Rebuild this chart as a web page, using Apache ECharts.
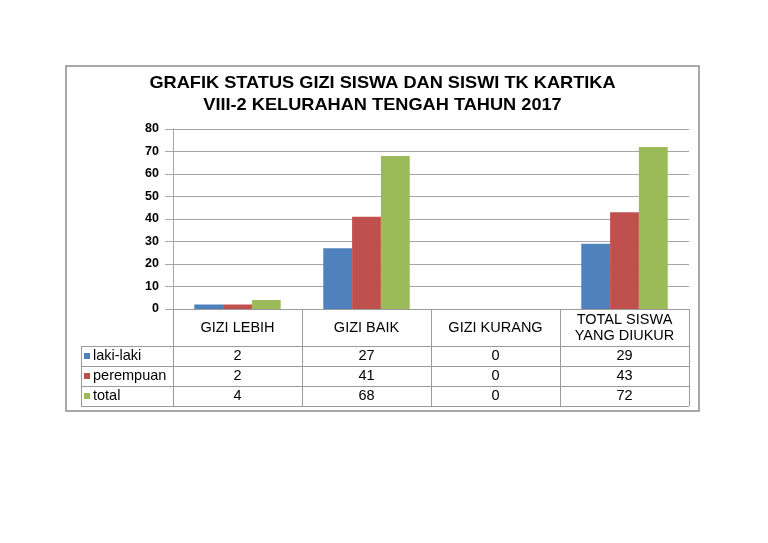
<!DOCTYPE html>
<html><head><meta charset="utf-8">
<script src="https://cdn.jsdelivr.net/npm/echarts@6/dist/echarts.min.js"></script>
<style>html,body{margin:0;padding:0;background:#fff}#c{width:768px;height:543px}</style>
</head><body><div id="c"></div>
<script>
const titleLines = ['GRAFIK STATUS GIZI SISWA DAN SISWI TK KARTIKA', 'VIII-2 KELURAHAN TENGAH TAHUN 2017'];
const categories = ['GIZI LEBIH', 'GIZI BAIK', 'GIZI KURANG', 'TOTAL SISWA\nYANG DIUKUR'];
const seriesNames = ['laki-laki', 'perempuan', 'total'];
const lakiLaki = [2, 27, 0, 29];
const perempuan = [2, 41, 0, 43];
const total = [4, 68, 0, 72];
const yMin = 0, yMax = 80, yInterval = 10;

const seriesData = [lakiLaki, perempuan, total];
const colors = ['#4F81BD', '#C0504D', '#9BBB59'];
const FONT = '"Liberation Sans", Arial, sans-serif';
const GRID_C = '#a6a6a6';
const TABLE_C = '#9a9a9a';
const HEADER_H = 37, ROW_H = 20;

const chart = echarts.init(document.getElementById('c'), null, {renderer: 'canvas'});

const baseOption = {
  backgroundColor: '#fff',
  animation: false,
  grid: {left: 173, right: 79, top: 129, bottom: 234, containLabel: false},
  xAxis: {
    type: 'category',
    data: categories,
    boundaryGap: true,
    axisLine: {show: true, lineStyle: {color: TABLE_C, width: 1}},
    axisTick: {show: true, length: HEADER_H + ROW_H * 3, lineStyle: {color: TABLE_C, width: 1}},
    axisLabel: {
      show: true, margin: 18.5, verticalAlign: 'middle', lineHeight: 16,
      color: '#000', fontFamily: FONT, fontSize: 14.5, interval: 0
    },
    splitLine: {show: false}
  },
  yAxis: {
    type: 'value', min: yMin, max: yMax, interval: yInterval,
    axisLine: {show: true, lineStyle: {color: GRID_C, width: 1}},
    axisTick: {show: true, length: 8, lineStyle: {color: GRID_C}},
    axisLabel: {margin: 14, color: '#000', fontFamily: FONT, fontSize: 12.5, fontWeight: 'bold'},
    splitLine: {show: true, lineStyle: {color: GRID_C, width: 1}}
  },
  series: seriesNames.map((n, i) => ({
    name: n, type: 'bar', data: seriesData[i],
    barGap: '0%', barCategoryGap: '33%',
    itemStyle: {color: colors[i]}
  }))
};
chart.setOption(baseOption);

function buildGraphic() {
  const y0 = chart.convertToPixel({yAxisIndex: 0}, 0);
  const xs = categories.map((c, i) => chart.convertToPixel({xAxisIndex: 0}, i));
  const step = xs.length > 1 ? xs[1] - xs[0] : 129;
  const axisRight = xs[xs.length - 1] + step / 2;
  const tableLeft = 81;
  const els = [];
  // outer chart border
  els.push({type: 'rect', shape: {x: 66, y: 66, width: 633, height: 345},
    style: {fill: null, stroke: '#8c8c8c', lineWidth: 1.5}, z: 0, silent: true});
  // title
  titleLines.forEach((t, i) => {
    els.push({type: 'text', x: 382.5, y: 83.5 + i * 22, scaleX: 1.07,
      style: {text: t, fontFamily: FONT, fontSize: 17, fontWeight: 'bold', fill: '#000',
        align: 'center', verticalAlign: 'middle'}});
  });
  // table horizontal lines
  for (let r = 0; r <= seriesNames.length; r++) {
    const y = Math.round(y0 + HEADER_H + r * ROW_H) + 0.5;
    els.push({type: 'line', shape: {x1: tableLeft, y1: y, x2: axisRight, y2: y},
      style: {stroke: TABLE_C, lineWidth: 1}, silent: true});
  }
  // left border of the row header column
  const yTop = Math.round(y0 + HEADER_H) + 0.5;
  const yBot = Math.round(y0 + HEADER_H + seriesNames.length * ROW_H) + 0.5;
  els.push({type: 'line', shape: {x1: tableLeft + 0.5, y1: yTop, x2: tableLeft + 0.5, y2: yBot},
    style: {stroke: TABLE_C, lineWidth: 1}, silent: true});
  // row headers with legend keys, and values
  seriesNames.forEach((n, r) => {
    const yc = y0 + HEADER_H + r * ROW_H + ROW_H / 2;
    els.push({type: 'rect', shape: {x: 84, y: Math.round(yc) - 3, width: 6, height: 6},
      style: {fill: colors[r]}});
    els.push({type: 'text', x: 93, y: yc,
      style: {text: n, fontFamily: FONT, fontSize: 14.5, fill: '#000', align: 'left', verticalAlign: 'middle'}});
    seriesData[r].forEach((v, c) => {
      els.push({type: 'text', x: xs[c], y: yc,
        style: {text: String(v), fontFamily: FONT, fontSize: 14.5, fill: '#000', align: 'center', verticalAlign: 'middle'}});
    });
  });
  chart.setOption({graphic: {elements: els}});
}
buildGraphic();
</script>
</body></html>
